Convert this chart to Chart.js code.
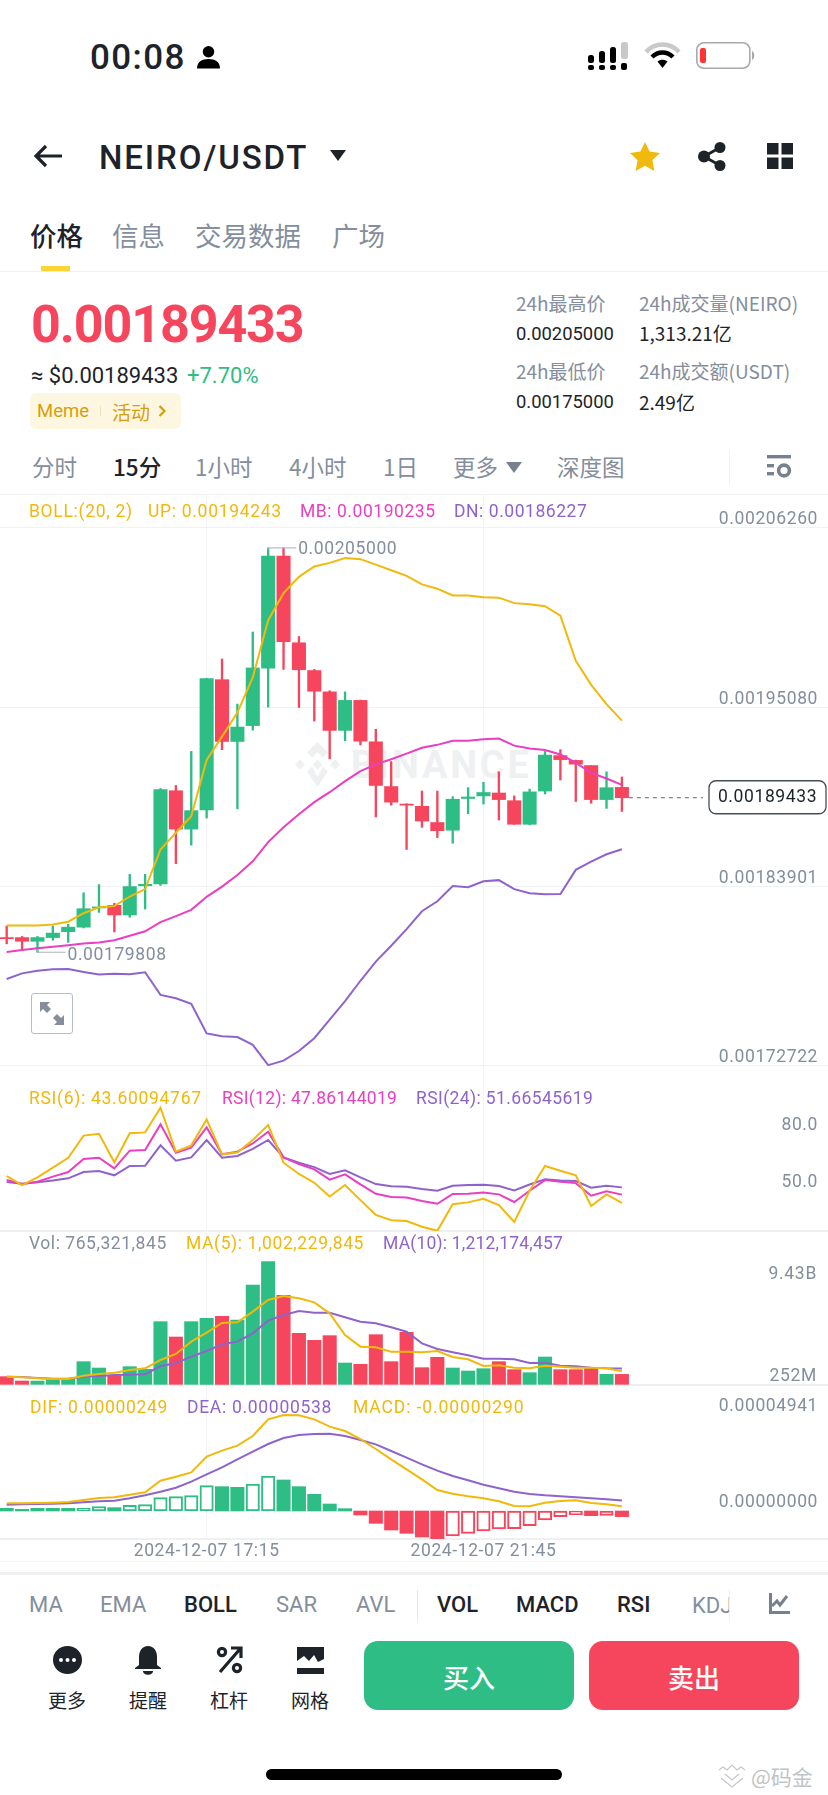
<!DOCTYPE html>
<html lang="zh">
<head>
<meta charset="utf-8">
<title>NEIRO/USDT</title>
<script src="https://cdn.jsdelivr.net/npm/chart.js@4/dist/chart.umd.min.js"></script>
<style>
html, body { margin: 0; padding: 0; background: #fff; }
body { width: 828px; height: 1795px; position: relative; overflow: hidden; font-family: Roboto, "Noto Sans CJK SC", sans-serif; color: #1e2329; }
.t { position: absolute; white-space: nowrap; line-height: 1; transform: translateY(-50%); }
.g { color: #848e9c; }
.cn { font-family: "Noto Sans CJK SC", Roboto, sans-serif; }
.b { font-weight: 500; }
.yellow { color: #f0b90b; } .pink { color: #e93fc0; } .purple { color: #8f63cc; }
.line { position: absolute; left: 0; width: 828px; background: #eef0f2; }
canvas { position: absolute; left: 0; z-index: 2; }
svg { position: absolute; overflow: visible; }
.leg { font-size: 17.5px; letter-spacing: .7px; margin-top: 1.5px; z-index: 3; }
.btn { position: absolute; top: 1641px; width: 210px; height: 69px; border-radius: 14px; color: #fff; font-size: 26px; text-align: center; line-height: 71px; font-weight: 500; }
.tool { position: absolute; top: 1699px; transform: translate(-50%,-50%); font-size: 19px; line-height: 1; }
</style>
</head>
<body>

<!-- status bar -->
<div class="t b" style="left:90px;top:57px;font-size:35px;letter-spacing:1.4px">00:08</div>
<svg style="left:197px;top:45px" width="23" height="24" viewBox="0 0 24 24"><circle cx="12" cy="6.5" r="6"/><path d="M0 24c0-7 5-10 12-10s12 3 12 10z"/></svg>
<svg style="left:588px;top:42px" width="42" height="28" viewBox="0 0 42 28">
<rect x="0" y="13" width="6" height="8" rx="2.5"/><rect x="11" y="9" width="6" height="12" rx="2.5"/><rect x="22" y="5" width="6" height="16" rx="2.5"/><rect x="33" y="0" width="7" height="17" rx="2.5" fill="#c9c9c9"/>
<rect x="0" y="23" width="6" height="5" rx="2"/><rect x="11" y="23" width="6" height="5" rx="2"/><rect x="22" y="23" width="6" height="5" rx="2"/><rect x="33" y="21" width="6" height="7" rx="2"/></svg>
<svg style="left:644px;top:43px" width="37" height="25" viewBox="0 0 37 25" fill="none" stroke-width="4.4"><path d="M2 9C11-1 26-1 35 9" stroke="#c9c9c9"/><path d="M8 14C14 8 23 8 29 14" stroke="#000"/><path d="M13.5 18.5L18.5 25 23.5 18.5C20.5 16 16.5 16 13.5 18.5z" fill="#000" stroke="none"/></svg>
<svg style="left:696px;top:42px" width="60" height="27" viewBox="0 0 60 27"><rect x=".8" y=".8" width="53" height="25.4" rx="7" fill="#fff" stroke="#a9a9a9" stroke-width="1.6"/><rect x="4" y="6" width="6" height="15" rx="2" fill="#f33"/><path d="M56 9c3 1 3 8 0 9z" fill="#a9a9a9"/></svg>

<!-- header -->
<svg style="left:34px;top:145px" width="28" height="22" viewBox="0 0 28 22" fill="none" stroke="#1e2329" stroke-width="3.2"><path d="M28 11H3M12 1L2 11l10 10"/></svg>
<div class="t b" style="left:99px;top:157px;font-size:33px;letter-spacing:1.9px">NEIRO/USDT</div>
<svg style="left:330px;top:150px" width="16" height="11" viewBox="0 0 16 11"><path d="M0 0h16l-8 11z" fill="#1e2329"/></svg>
<svg style="left:630px;top:142px" width="30" height="29" viewBox="0 0 30 29"><path d="M15 0l4.6 9.6 10.4 1.4-7.6 7.2 2 10.8-9.4-5.2-9.4 5.2 2-10.8L0 11l10.4-1.4z" fill="#f0b90b"/></svg>
<svg style="left:698px;top:142px" width="28" height="29" viewBox="0 0 28 29" fill="#1e2329"><circle cx="6" cy="14.5" r="6"/><circle cx="22" cy="5.5" r="5.5"/><circle cx="22" cy="23.5" r="5.5"/><path d="M6 14.5L22 5.5M6 14.5L22 23.5" stroke="#1e2329" stroke-width="3"/></svg>
<svg style="left:767px;top:143px" width="26" height="26" viewBox="0 0 26 26" fill="#1e2329"><rect width="11.5" height="11.5"/><rect x="14.5" width="11.5" height="11.5"/><rect y="14.5" width="11.5" height="11.5"/><rect x="14.5" y="14.5" width="11.5" height="11.5"/></svg>

<!-- tabs -->
<div class="t cn b" style="left:30px;top:235px;font-size:26.5px">价格</div>
<div class="t cn g" style="left:112px;top:235px;font-size:26.5px">信息</div>
<div class="t cn g" style="left:195px;top:235px;font-size:26.5px">交易数据</div>
<div class="t cn g" style="left:332px;top:235px;font-size:26.5px">广场</div>
<div style="position:absolute;left:41px;top:266px;width:29px;height:5px;background:#fcd535"></div>
<div class="line" style="top:271px;height:1px"></div>

<!-- price block -->
<div class="t" style="left:31px;top:325px;font-size:52px;font-weight:700;color:#f6465d;letter-spacing:-1.1px">0.00189433</div>
<div class="t" style="left:31px;top:376px;font-size:22px">≈ $0.00189433</div>
<div class="t" style="left:187px;top:376px;font-size:22px;color:#2ebd85">+7.70%</div>
<div style="position:absolute;left:30px;top:393px;width:151px;height:36px;border-radius:6px;background:#fdf6e0"></div>
<div class="t" style="left:37px;top:411px;font-size:18.5px;color:#d69e0a">Meme</div>
<div style="position:absolute;left:100px;top:406px;width:1px;height:10px;background:#efe3bb"></div>
<div class="t cn" style="left:112px;top:411px;font-size:19px;color:#d69e0a">活动</div>
<svg style="left:158px;top:405px" width="8" height="12" viewBox="0 0 8 12" fill="none" stroke="#d69e0a" stroke-width="2.2"><path d="M1.5 1l5 5-5 5"/></svg>

<div class="t g cn" style="left:516px;top:302px;font-size:19px">24h最高价</div>
<div class="t g cn" style="left:639px;top:302px;font-size:19px">24h成交量(NEIRO)</div>
<div class="t" style="left:516px;top:334px;font-size:18.4px">0.00205000</div>
<div class="t cn" style="left:639px;top:332px;font-size:19px">1,313.21亿</div>
<div class="t g cn" style="left:516px;top:370px;font-size:19px">24h最低价</div>
<div class="t g cn" style="left:639px;top:370px;font-size:19px">24h成交额(USDT)</div>
<div class="t" style="left:516px;top:402px;font-size:18.4px">0.00175000</div>
<div class="t cn" style="left:639px;top:401px;font-size:19px">2.49亿</div>

<!-- interval row -->
<div class="t g cn" style="left:32px;top:466px;font-size:22.5px">分时</div>
<div class="t cn b" style="left:113px;top:466px;font-size:22.5px">15分</div>
<div class="t g cn" style="left:195px;top:466px;font-size:22.5px">1小时</div>
<div class="t g cn" style="left:289px;top:466px;font-size:22.5px">4小时</div>
<div class="t g cn" style="left:383px;top:466px;font-size:22.5px">1日</div>
<div class="t g cn" style="left:453px;top:466px;font-size:22.5px">更多</div>
<svg style="left:506px;top:462px" width="16" height="11" viewBox="0 0 16 11"><path d="M0 0h16l-8 11z" fill="#76808f"/></svg>
<div class="t g cn" style="left:557px;top:466px;font-size:22.5px">深度图</div>
<div style="position:absolute;left:729px;top:450px;width:1px;height:35px;background:#eef0f2"></div>
<svg style="left:767px;top:455px" width="24" height="24" viewBox="0 0 24 24" fill="#76808f"><rect width="24" height="3.4"/><rect y="9" width="7" height="3.4"/><rect y="17" width="7" height="3.4"/><circle cx="17" cy="15.5" r="5.4" fill="none" stroke="#76808f" stroke-width="3.6"/></svg>
<div class="line" style="top:494px;height:1px"></div>

<!-- binance watermark behind the price chart -->
<svg style="left:295px;top:742px" width="45" height="45" viewBox="0 0 45 45" fill="#eef0f1"><path d="M22.5 0L33 10.5 28 15.500 22.500 10 17 15.500 12 10.500zM5 17.500L10 22.500 5 27.500 0 22.500zM40 17.500L45 22.500 40 27.500 35 22.500zM22.500 17.500L27.500 22.500 22.500 27.500 17.500 22.500zM12 29.500L17 24.500 22.500 35 28 24.500 33 29.500 22.500 45z"/></svg>
<div class="t" style="left:351px;top:765px;font-size:38px;font-weight:700;color:#eef0f1;letter-spacing:2.8px;z-index:1">BINANCE</div>

<!-- panels -->
<div class="line" style="top:1230px;height:2px"></div>
<div class="line" style="top:1384px;height:2px"></div>
<div class="line" style="top:1538px;height:2px"></div>
<div class="line" style="top:1561px;height:1px;background:#f5f6f7"></div>
<div class="line" style="top:1572px;height:3px"></div>

<canvas id="priceChart" width="828" height="576" style="top:494px"></canvas>
<canvas id="rsiChart" width="828" height="161" style="top:1070px"></canvas>
<canvas id="volChart" width="828" height="154" style="top:1231px"></canvas>
<canvas id="macdChart" width="828" height="177" style="top:1385px"></canvas>

<!-- indicator legends -->
<div class="t leg yellow" style="left:29px;top:510px">BOLL:(20, 2)</div>
<div class="t leg yellow" style="left:148px;top:510px">UP: 0.00194243</div>
<div class="t leg pink" style="left:300px;top:510px;letter-spacing:.55px">MB: 0.00190235</div>
<div class="t leg purple" style="left:454px;top:510px;letter-spacing:.55px">DN: 0.00186227</div>
<div class="t leg yellow" style="left:29px;top:1097px">RSI(6): 43.60094767</div>
<div class="t leg pink" style="left:222px;top:1097px;letter-spacing:.3px">RSI(12): 47.86144019</div>
<div class="t leg purple" style="left:416px;top:1097px;letter-spacing:.4px">RSI(24): 51.66545619</div>
<div class="t leg g" style="left:29px;top:1242px;letter-spacing:.55px">Vol: 765,321,845</div>
<div class="t leg yellow" style="left:186px;top:1242px;letter-spacing:.6px">MA(5): 1,002,229,845</div>
<div class="t leg purple" style="left:383px;top:1242px;letter-spacing:.2px">MA(10): 1,212,174,457</div>
<div class="t leg g" style="right:11px;top:1272px">9.43B</div>
<div class="t leg g" style="right:11px;top:1374px">252M</div>
<div class="t leg yellow" style="left:30px;top:1406px">DIF: 0.00000249</div>
<div class="t leg purple" style="left:187px;top:1406px">DEA: 0.00000538</div>
<div class="t leg yellow" style="left:353px;top:1406px;letter-spacing:.9px">MACD: -0.00000290</div>

<!-- expand button -->
<div style="position:absolute;left:31px;top:993px;width:40px;height:39px;border:1.5px solid #b7bdc6;border-radius:3px;z-index:3;background:#fff"></div>
<svg style="left:40px;top:1002px;z-index:4" width="24" height="23" viewBox="0 0 24 23" fill="#848e9c"><path d="M0 0h10L7 3l4 4-4 4-4-4-3 3zM24 23H14l3-3-4-4 4-4 4 4 3-3z"/></svg>

<!-- indicator buttons -->
<div class="t g" style="left:29px;top:1605px;font-size:22px">MA</div>
<div class="t g" style="left:100px;top:1605px;font-size:22px">EMA</div>
<div class="t b" style="left:184px;top:1605px;font-size:22px">BOLL</div>
<div class="t g" style="left:276px;top:1605px;font-size:22px">SAR</div>
<div class="t g" style="left:356px;top:1605px;font-size:22px">AVL</div>
<div style="position:absolute;left:417px;top:1590px;width:1px;height:32px;background:#e6e8ea"></div>
<div class="t b" style="left:437px;top:1605px;font-size:22px">VOL</div>
<div class="t b" style="left:516px;top:1605px;font-size:22px">MACD</div>
<div class="t b" style="left:617px;top:1605px;font-size:22px">RSI</div>
<div style="position:absolute;left:692px;top:1590px;width:37px;height:32px;overflow:hidden;border-right:1px solid #eef0f2"><div class="t g" style="left:0;top:16px;font-size:22px">KDJ</div></div>
<svg style="left:769px;top:1593px" width="21" height="21" viewBox="0 0 21 21" fill="none" stroke="#76808f" stroke-width="3"><path d="M1.500 0v19.500H21M3 13l5-5 3 4 7-9"/></svg>

<!-- bottom toolbar -->
<svg style="left:53px;top:1646px" width="29" height="28" viewBox="0 0 29 28"><ellipse cx="14.500" cy="14" rx="14.500" ry="14" fill="#1e2329"/><circle cx="8" cy="14" r="2" fill="#fff"/><circle cx="14.500" cy="14" r="2" fill="#fff"/><circle cx="21" cy="14" r="2" fill="#fff"/></svg>
<svg style="left:135px;top:1646px" width="26" height="29" viewBox="0 0 26 29" fill="#1e2329"><path d="M13 0c6 0 9 5 9 11v8l4 3v1H0v-1l4-3v-8C4 5 7 0 13 0z"/><path d="M8 25h10c0 5-10 5-10 0z"/></svg>
<svg style="left:216px;top:1646px" width="27" height="28" viewBox="0 0 27 28" fill="none" stroke="#1e2329" stroke-width="3.2"><path d="M4 26L24 3M15 2h10v10"/><circle cx="6" cy="6" r="3.600"/><circle cx="21" cy="22" r="3.600"/></svg>
<svg style="left:297px;top:1647px" width="27" height="27" viewBox="0 0 27 27" fill="#1e2329"><path d="M0 0h27v12l-6 3-4-7-5 6-5-5-7 5z"/><path d="M0 21h27v6H0z"/></svg>
<div class="tool cn" style="left:67px">更多</div>
<div class="tool cn" style="left:148px">提醒</div>
<div class="tool cn" style="left:229px">杠杆</div>
<div class="tool cn" style="left:310px">网格</div>
<div class="btn cn" style="left:364px;background:#2ebd85">买入</div>
<div class="btn cn" style="left:589px;background:#f6465d">卖出</div>
<div style="position:absolute;left:266px;top:1769px;width:296px;height:11px;border-radius:6px;background:#000"></div>
<svg style="left:718px;top:1764px" width="28" height="24" viewBox="0 0 28 24" fill="none" stroke="#c4c7cb" stroke-width="1.2"><path d="M1 6l4-3 4 3 5-5 5 5 4-3 4 3M7 10l7 6 7-6M3 14l11 9 11-9"/></svg>
<div class="t cn" style="left:751px;top:1776px;font-size:21px;color:#c0c3c7">@码金</div>

<script>
const FONT = 'Roboto, "Noto Sans CJK SC", sans-serif';
const GREEN = '#2ebd85';
const RED = '#f6465d';
const YELLOW = '#f0b90b';
const PINK = '#e93fc0';
const PURPLE = '#8f63cc';
const AXIS_GREY = '#848e9c';

// candle times, 15 minute interval
const candleTimes = [
  '2024-12-07 14:00', '2024-12-07 14:15', '2024-12-07 14:30', '2024-12-07 14:45', '2024-12-07 15:00', '2024-12-07 15:15',
  '2024-12-07 15:30', '2024-12-07 15:45', '2024-12-07 16:00', '2024-12-07 16:15', '2024-12-07 16:30', '2024-12-07 16:45',
  '2024-12-07 17:00', '2024-12-07 17:15', '2024-12-07 17:30', '2024-12-07 17:45', '2024-12-07 18:00', '2024-12-07 18:15',
  '2024-12-07 18:30', '2024-12-07 18:45', '2024-12-07 19:00', '2024-12-07 19:15', '2024-12-07 19:30', '2024-12-07 19:45',
  '2024-12-07 20:00', '2024-12-07 20:15', '2024-12-07 20:30', '2024-12-07 20:45', '2024-12-07 21:00', '2024-12-07 21:15',
  '2024-12-07 21:30', '2024-12-07 21:45', '2024-12-07 22:00', '2024-12-07 22:15', '2024-12-07 22:30', '2024-12-07 22:45',
  '2024-12-07 23:00', '2024-12-07 23:15', '2024-12-07 23:30', '2024-12-07 23:45', '2024-12-08 00:00'
];
const labelledTimes = ['2024-12-07 17:15', '2024-12-07 21:45'];

// OHLC
const opens = [0.0018072, 0.0018072, 0.0018049, 0.0018072, 0.0018109, 0.0018137, 0.0018257, 0.0018273, 0.0018213, 0.0018395, 0.0018406, 0.0018987, 0.0018748, 0.0018867, 0.0019679, 0.0019294, 0.0019393, 0.0019750, 0.0020449, 0.0019909, 0.0019736, 0.0019603, 0.0019363, 0.0019550, 0.0019292, 0.0019013, 0.0018904, 0.0018890, 0.0018789, 0.0018741, 0.0018939, 0.0018955, 0.0018973, 0.0018925, 0.0018778, 0.0018985, 0.0019206, 0.0019176, 0.0019144, 0.0018932, 0.0019008];
const highs = [0.0018144, 0.0018079, 0.0018079, 0.0018144, 0.0018155, 0.0018351, 0.0018402, 0.0018286, 0.0018466, 0.0018466, 0.0019001, 0.0019020, 0.0019232, 0.0019688, 0.0019808, 0.0019527, 0.0019976, 0.00205, 0.00205, 0.0019948, 0.0019743, 0.0019610, 0.0019603, 0.0019552, 0.0019370, 0.0019169, 0.0018906, 0.0018985, 0.0018985, 0.0018950, 0.0019006, 0.0019040, 0.0019105, 0.0018955, 0.0018997, 0.0019232, 0.0019243, 0.0019178, 0.0019144, 0.0019105, 0.0019073];
const lows = [0.0018033, 0.0018003, 0.00179808, 0.0018056, 0.0018042, 0.0018132, 0.0018229, 0.0018107, 0.0018199, 0.0018250, 0.0018397, 0.0018533, 0.0018648, 0.0018817, 0.0019243, 0.0018874, 0.0019365, 0.0019508, 0.0019743, 0.0019506, 0.0019421, 0.0019186, 0.0019298, 0.0019273, 0.0018824, 0.0018897, 0.0018621, 0.0018759, 0.0018695, 0.0018660, 0.0018844, 0.0018904, 0.0018805, 0.0018778, 0.0018775, 0.0018967, 0.0019054, 0.0018920, 0.0018909, 0.0018877, 0.0018858];
const closes = [0.0018065, 0.0018049, 0.0018072, 0.0018100, 0.0018137, 0.0018252, 0.0018263, 0.0018213, 0.0018390, 0.0018404, 0.0018994, 0.0018748, 0.0018863, 0.0019686, 0.0019294, 0.0019384, 0.0019752, 0.0020449, 0.0019916, 0.0019741, 0.0019607, 0.0019363, 0.0019550, 0.0019296, 0.0019020, 0.0018916, 0.0018897, 0.0018798, 0.0018738, 0.0018934, 0.0018948, 0.0018976, 0.0018932, 0.0018778, 0.0018980, 0.0019209, 0.0019181, 0.0019153, 0.0018932, 0.0019006, 0.00189433];

// bollinger bands
const bollUp = [0.0018148, 0.0018148, 0.0018148, 0.0018153, 0.0018171, 0.0018224, 0.0018261, 0.0018268, 0.0018328, 0.0018374, 0.0018621, 0.0018725, 0.0018828, 0.0019179, 0.0019324, 0.0019474, 0.0019693, 0.0020050, 0.0020218, 0.0020320, 0.0020384, 0.0020407, 0.0020437, 0.0020430, 0.0020396, 0.0020361, 0.0020326, 0.0020273, 0.0020246, 0.0020204, 0.0020204, 0.0020193, 0.0020190, 0.0020156, 0.0020149, 0.0020137, 0.0020078, 0.0019796, 0.0019647, 0.0019527, 0.00194243];
const bollMid = [0.0017982, 0.0017994, 0.0018005, 0.0018015, 0.0018024, 0.0018035, 0.0018042, 0.0018056, 0.0018084, 0.0018111, 0.0018169, 0.0018206, 0.0018245, 0.0018326, 0.0018390, 0.0018462, 0.0018547, 0.0018667, 0.0018759, 0.0018840, 0.0018916, 0.0018978, 0.0019047, 0.0019109, 0.0019151, 0.0019183, 0.0019218, 0.0019255, 0.0019273, 0.0019298, 0.0019298, 0.0019308, 0.0019312, 0.0019268, 0.0019250, 0.0019241, 0.0019213, 0.0019162, 0.0019098, 0.0019063, 0.00190235];
const bollDown = [0.0017814, 0.0017849, 0.0017865, 0.0017874, 0.0017876, 0.0017858, 0.0017842, 0.0017846, 0.0017844, 0.0017856, 0.0017715, 0.0017694, 0.0017660, 0.0017475, 0.0017457, 0.0017452, 0.0017404, 0.0017277, 0.0017305, 0.0017365, 0.0017445, 0.0017561, 0.0017676, 0.0017803, 0.0017922, 0.0018021, 0.0018125, 0.0018236, 0.0018298, 0.0018393, 0.0018386, 0.0018423, 0.0018430, 0.0018374, 0.0018349, 0.0018342, 0.0018344, 0.0018494, 0.0018545, 0.0018591, 0.00186227];

// RSI
const rsi6 = [57.6, 52.9, 56.9, 62.0, 67.2, 78.8, 79.8, 64.8, 80.0, 80.5, 93.4, 70.4, 73.7, 87.3, 69.0, 69.9, 76.5, 84.4, 64.6, 58.7, 54.1, 46.9, 52.9, 45.0, 37.2, 34.4, 34.0, 31.0, 28.9, 42.8, 43.8, 45.7, 42.4, 33.5, 49.9, 62.9, 60.4, 58.0, 41.9, 48.0, 43.6];
const rsi12 = [55.5, 53.4, 54.6, 57.3, 59.7, 66.5, 67.2, 61.6, 70.9, 71.2, 84.7, 69.8, 72.5, 83.1, 69.0, 70.4, 74.7, 80.9, 67.4, 63.9, 61.1, 55.7, 58.5, 53.2, 48.3, 46.6, 46.4, 44.5, 43.1, 48.2, 48.3, 49.0, 48.0, 44.0, 49.9, 55.5, 54.6, 53.9, 47.3, 49.6, 47.86];
const rsi24 = [54.5, 53.6, 54.3, 55.3, 56.4, 59.7, 60.2, 58.0, 62.9, 63.0, 73.7, 65.7, 67.4, 76.5, 67.2, 68.1, 71.8, 76.5, 67.4, 64.6, 62.3, 58.7, 60.6, 56.9, 53.4, 52.2, 52.0, 50.8, 49.9, 52.5, 52.9, 53.1, 52.4, 50.1, 53.2, 55.9, 55.3, 55.0, 51.5, 52.5, 51.67];

// volume, millions
const volumes = [589, 256, 252, 307, 384, 1741, 1254, 666, 1357, 1152, 4813, 3635, 4813, 5069, 5222, 4941, 7629, 9430, 6835, 3917, 3379, 3738, 1638, 1536, 3814, 1741, 3994, 1280, 2074, 1254, 1024, 1203, 1741, 1126, 896, 2099, 1126, 1126, 1203, 768, 765];
const volMa5 = [589, 538, 461, 410, 410, 666, 794, 896, 1101, 1229, 1869, 2330, 3277, 3968, 4710, 4762, 5581, 6477, 6784, 6605, 6298, 5453, 3789, 2893, 2842, 2509, 2509, 2458, 2560, 2099, 1920, 1408, 1459, 1280, 1229, 1434, 1357, 1280, 1280, 1229, 1002];
const volMa10 = [589, 563, 486, 435, 435, 589, 640, 717, 742, 768, 1408, 1613, 2125, 2560, 3072, 3277, 3917, 4890, 5325, 5632, 5504, 5504, 5146, 4813, 4685, 4378, 4045, 3149, 2714, 2458, 2227, 1971, 1971, 1920, 1638, 1664, 1434, 1382, 1280, 1229, 1212];

// MACD
const macdDif = [394e-8, 394e-8, 412e-8, 429e-8, 463e-8, 566e-8, 669e-8, 703e-8, 840e-8, 960e-8, 1561e-8, 1766e-8, 1989e-8, 2795e-8, 3104e-8, 3361e-8, 3859e-8, 4716e-8, 4941e-8, 4922e-8, 4716e-8, 4339e-8, 4116e-8, 3704e-8, 3190e-8, 2658e-8, 2144e-8, 1629e-8, 1080e-8, 892e-8, 755e-8, 652e-8, 497e-8, 257e-8, 240e-8, 429e-8, 514e-8, 549e-8, 412e-8, 343e-8, 249e-8];
const macdDea = [326e-8, 343e-8, 360e-8, 377e-8, 394e-8, 446e-8, 497e-8, 532e-8, 652e-8, 806e-8, 995e-8, 1200e-8, 1509e-8, 1887e-8, 2247e-8, 2658e-8, 3053e-8, 3447e-8, 3756e-8, 3910e-8, 3962e-8, 3979e-8, 3859e-8, 3653e-8, 3430e-8, 3087e-8, 2744e-8, 2401e-8, 2075e-8, 1801e-8, 1578e-8, 1355e-8, 1166e-8, 995e-8, 875e-8, 806e-8, 755e-8, 703e-8, 652e-8, 600e-8, 538e-8];
const macdHist = [137e-8, 86e-8, 137e-8, 137e-8, 137e-8, 150e-8, 223e-8, 172e-8, 292e-8, 326e-8, 686e-8, 737e-8, 789e-8, 1303e-8, 1252e-8, 1218e-8, 1389e-8, 1801e-8, 1595e-8, 1252e-8, 858e-8, 360e-8, 120e-8, -206e-8, -635e-8, -978e-8, -1149e-8, -1338e-8, -1423e-8, -1286e-8, -1149e-8, -1029e-8, -926e-8, -909e-8, -755e-8, -463e-8, -292e-8, -189e-8, -240e-8, -232e-8, -290e-8];

// right axis ticks
const priceTicks = [0.0020626, 0.0019508, 0.00183901, 0.00172722];
const rsiTicks = [80, 50];
const macdTicks = [4941e-8, 0];

const toPoints = arr => arr.map((y, x) => ({ x, y }));
const upDown = closes.map((c, i) => c >= opens[i] ? GREEN : RED);
const gridIndexes = labelledTimes.map(t => candleTimes.indexOf(t));

// axes take no room, the chart area has to fill the canvas
function noPadding(a) {
  a.paddingTop = a.paddingBottom = a.paddingLeft = a.paddingRight = 0;
}

function xAxis(showLabels) {
  return {
    type: 'linear',
    offset: false,
    min: -0.4356,
    max: 53.4,
    border: { display: false },
    grid: { color: '#f2f3f5', drawTicks: false, offset: false },
    afterBuildTicks: a => { a.ticks = gridIndexes.map(value => ({ value })); },
    afterFit: a => { a.height = showLabels ? 23 : 0; noPadding(a); },
    ticks: {
      display: showLabels,
      autoSkip: false,
      maxRotation: 0,
      padding: 2,
      color: AXIS_GREY,
      font: { size: 17.5, family: FONT },
      callback: v => candleTimes[v]
    }
  };
}

function yAxis(min, max, values, format, showGrid) {
  return {
    position: 'right',
    min,
    max,
    border: { display: false },
    grid: { display: showGrid, color: '#f0f1f3', drawTicks: false },
    afterBuildTicks: a => { a.ticks = values.map(value => ({ value })); },
    afterFit: a => { a.width = 0; noPadding(a); },
    ticks: {
      mirror: true,
      autoSkip: false,
      padding: -10,
      labelOffset: -8,
      color: AXIS_GREY,
      font: { size: 17.5, family: FONT },
      callback: format
    }
  };
}

function lineSet(data, color) {
  return { type: 'line', data: toPoints(data), borderColor: color, borderWidth: 2, pointRadius: 0, tension: 0, order: 0 };
}

const textSpacing = {
  id: 'textSpacing',
  beforeDraw(chart) { chart.ctx.letterSpacing = '0.6px'; }
};

function panel(id, datasets, scales, plugins) {
  return new Chart(document.getElementById(id), {
    type: 'bar',
    data: { datasets },
    options: {
      responsive: false,
      animation: false,
      events: [],
      layout: { padding: 0 },
      plugins: { legend: { display: false }, tooltip: { enabled: false } },
      datasets: { bar: { grouped: false } },
      scales
    },
    plugins: [textSpacing].concat(plugins || [])
  });
}

// high / low tags and last price box on the price panel
const priceMarkers = {
  id: 'priceMarkers',
  afterDatasetsDraw(chart) {
    const { ctx, scales: { x, y } } = chart;
    const hi = Math.max(...highs), lo = Math.min(...lows);
    const hx = x.getPixelForValue(highs.indexOf(hi)), hy = y.getPixelForValue(hi);
    const lx = x.getPixelForValue(lows.indexOf(lo)), ly = y.getPixelForValue(lo);
    ctx.save();
    ctx.strokeStyle = '#a9afb9';
    ctx.lineWidth = 1;
    ctx.beginPath();
    ctx.moveTo(hx, hy + 2); ctx.lineTo(hx, hy); ctx.lineTo(hx + 28, hy);
    ctx.moveTo(lx, ly - 3); ctx.lineTo(lx, ly); ctx.lineTo(lx + 28, ly);
    ctx.stroke();
    ctx.fillStyle = AXIS_GREY;
    ctx.font = '17.5px ' + FONT;
    ctx.textBaseline = 'middle';
    ctx.fillText(hi.toFixed(8), hx + 30, hy + 2);
    ctx.fillText(lo.toFixed(8), lx + 30, ly + 3);

    const last = closes[closes.length - 1];
    const ly2 = y.getPixelForValue(last);
    ctx.strokeStyle = '#5e6673';
    ctx.setLineDash([4, 4]);
    ctx.beginPath();
    ctx.moveTo(x.getPixelForValue(closes.length - 1) + 7, ly2);
    ctx.lineTo(703, ly2);
    ctx.stroke();
    ctx.setLineDash([]);
    ctx.strokeStyle = '#474d57';
    ctx.lineWidth = 1.3;
    ctx.fillStyle = '#fff';
    ctx.beginPath();
    ctx.roundRect(709, ly2 - 17, 117, 33, 7);
    ctx.fill();
    ctx.stroke();
    ctx.fillStyle = '#1e2329';
    ctx.textAlign = 'center';
    ctx.fillText(last.toFixed(8), 767.5, ly2);
    ctx.restore();
  }
};

panel('priceChart', [
  lineSet(bollUp, YELLOW),
  lineSet(bollMid, PINK),
  lineSet(bollDown, PURPLE),
  { data: opens.map((o, x) => ({ x, y: [o, closes[x]] })), backgroundColor: upDown, barThickness: 13.4, order: 1 },
  { data: lows.map((l, x) => ({ x, y: [l, highs[x]] })), backgroundColor: upDown, barThickness: 1.7, order: 2 }
], {
  x: xAxis(false),
  y: yAxis(0.0017247, 0.0020836, priceTicks, v => v.toFixed(8), true)
}, [priceMarkers]);

panel('rsiChart', [
  lineSet(rsi6, YELLOW),
  lineSet(rsi12, PINK),
  lineSet(rsi24, PURPLE)
], {
  x: xAxis(false),
  y: yAxis(28.8, 113.2, rsiTicks, v => v.toFixed(1), false)
});

panel('volChart', [
  lineSet(volMa5, YELLOW),
  lineSet(volMa10, PURPLE),
  { data: toPoints(volumes), backgroundColor: upDown, barThickness: 13.4, order: 1 }
], {
  x: xAxis(false),
  y: yAxis(-51, 11776, [], v => v, false)
});

// a bar is hollow when it rose against the previous one, the tiny ones stay solid
const histColors = macdHist.map(v => v >= 0 ? GREEN : RED);
const isHollow = (v, i) => i > 0 && v > macdHist[i - 1] && Math.abs(v) > 140e-8;
const histFills = macdHist.map((v, i) => isHollow(v, i) ? '#fff' : histColors[i]);
const histBorders = macdHist.map((v, i) => isHollow(v, i) ? 2 : 0);

panel('macdChart', [
  lineSet(macdDif, YELLOW),
  lineSet(macdDea, PURPLE),
  { data: toPoints(macdHist), backgroundColor: histFills, borderColor: histColors, borderWidth: histBorders, borderSkipped: false, barThickness: 13.4, order: 1 }
], {
  x: xAxis(true),
  y: yAxis(-1441e-8, 6483e-8, macdTicks, v => v.toFixed(8), false)
});
</script>
</body>
</html>
